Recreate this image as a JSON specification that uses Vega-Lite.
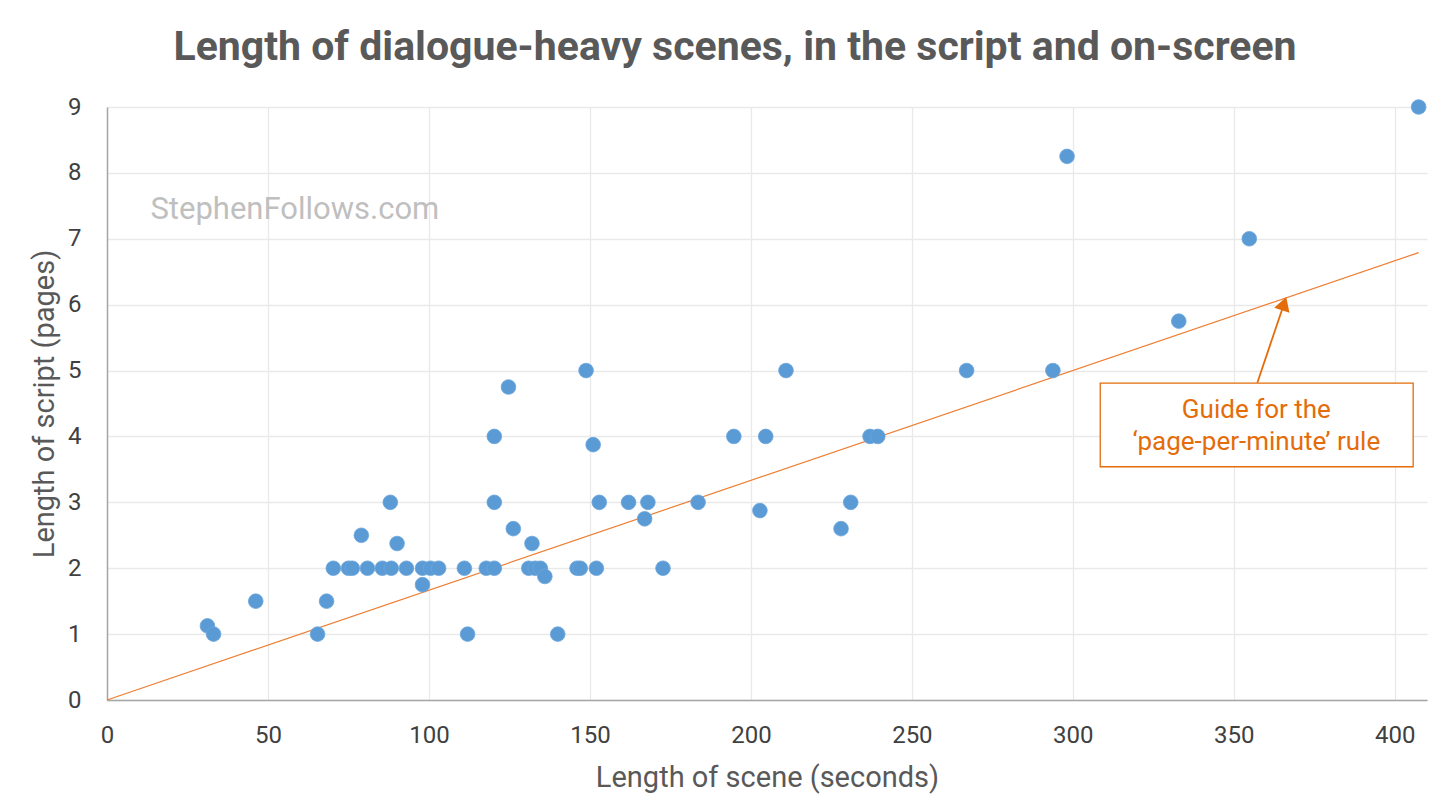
{
  "$schema": "https://vega.github.io/schema/vega-lite/v6.json",
  "width": 1320,
  "height": 593,
  "autosize": "none",
  "padding": {"left": 107, "top": 107, "right": 29, "bottom": 105},
  "background": "white",
  "title": {
    "text": "Length of dialogue-heavy scenes, in the script and on-screen",
    "font": "Roboto",
    "fontSize": 41,
    "fontWeight": "bold",
    "color": "#595959",
    "anchor": "middle",
    "frame": "group",
    "dx": -32,
    "offset": 26
  },
  "config": {
    "view": {"stroke": null},
    "font": "Roboto",
    "axis": {
      "labelFont": "Roboto",
      "labelFontSize": 24,
      "labelColor": "#404040",
      "labelFlush": false,
      "titleFont": "Roboto",
      "titleFontSize": 29,
      "titleFontWeight": "normal",
      "titleColor": "#595959",
      "domainColor": "#a6a6a6",
      "domainWidth": 1.5,
      "gridColor": "#e9e9e9",
      "gridWidth": 1.3,
      "ticks": false
    }
  },
  "datasets": {
    "scenes": [
      {"seconds": 31.2, "pages": 1.125},
      {"seconds": 33.1, "pages": 1},
      {"seconds": 46.2, "pages": 1.5},
      {"seconds": 65.4, "pages": 1},
      {"seconds": 68.2, "pages": 1.5},
      {"seconds": 70.3, "pages": 2},
      {"seconds": 75, "pages": 2},
      {"seconds": 76.2, "pages": 2},
      {"seconds": 79, "pages": 2.5},
      {"seconds": 80.9, "pages": 2},
      {"seconds": 85.5, "pages": 2},
      {"seconds": 88, "pages": 3},
      {"seconds": 88.3, "pages": 2},
      {"seconds": 90.1, "pages": 2.375},
      {"seconds": 93, "pages": 2},
      {"seconds": 98, "pages": 2},
      {"seconds": 98, "pages": 1.75},
      {"seconds": 100.5, "pages": 2},
      {"seconds": 103, "pages": 2},
      {"seconds": 111, "pages": 2},
      {"seconds": 112, "pages": 1},
      {"seconds": 117.8, "pages": 2},
      {"seconds": 120.3, "pages": 2},
      {"seconds": 120.3, "pages": 3},
      {"seconds": 120.3, "pages": 4},
      {"seconds": 124.7, "pages": 4.75},
      {"seconds": 126.2, "pages": 2.6},
      {"seconds": 131, "pages": 2},
      {"seconds": 132, "pages": 2.375},
      {"seconds": 133, "pages": 2},
      {"seconds": 134.6, "pages": 2},
      {"seconds": 136, "pages": 1.875},
      {"seconds": 140, "pages": 1},
      {"seconds": 146, "pages": 2},
      {"seconds": 147, "pages": 2},
      {"seconds": 148.8, "pages": 5},
      {"seconds": 151, "pages": 3.875},
      {"seconds": 152, "pages": 2},
      {"seconds": 152.9, "pages": 3},
      {"seconds": 162, "pages": 3},
      {"seconds": 167, "pages": 2.75},
      {"seconds": 168, "pages": 3},
      {"seconds": 172.7, "pages": 2},
      {"seconds": 183.6, "pages": 3},
      {"seconds": 194.7, "pages": 4},
      {"seconds": 202.8, "pages": 2.875},
      {"seconds": 204.6, "pages": 4},
      {"seconds": 210.9, "pages": 5},
      {"seconds": 228, "pages": 2.6},
      {"seconds": 231, "pages": 3},
      {"seconds": 237, "pages": 4},
      {"seconds": 239.4, "pages": 4},
      {"seconds": 267, "pages": 5},
      {"seconds": 293.8, "pages": 5},
      {"seconds": 298.2, "pages": 8.25},
      {"seconds": 332.9, "pages": 5.75},
      {"seconds": 354.8, "pages": 7},
      {"seconds": 407.4, "pages": 9}
    ],
    "guide": [
      {"seconds": 0, "pages": 0},
      {"seconds": 407.4, "pages": 6.79}
    ]
  },
  "layer": [
    {
      "data": {"name": "guide"},
      "mark": {"type": "line", "color": "#ED7D31", "strokeWidth": 1.2},
      "encoding": {
        "x": {
          "field": "seconds",
          "type": "quantitative",
          "title": "Length of scene (seconds)",
          "scale": {"domain": [0, 410], "nice": false, "zero": true},
          "axis": {
            "values": [0, 50, 100, 150, 200, 250, 300, 350, 400],
            "format": "d",
            "labelPadding": 23,
            "titlePadding": 16
          }
        },
        "y": {
          "field": "pages",
          "type": "quantitative",
          "title": "Length of script (pages)",
          "scale": {"domain": [0, 9], "nice": false},
          "axis": {
            "values": [0, 1, 2, 3, 4, 5, 6, 7, 8, 9],
            "format": "d",
            "labelPadding": 26,
            "titlePadding": 8
          }
        }
      }
    },
    {
      "data": {"name": "scenes"},
      "mark": {
        "type": "circle",
        "size": 215,
        "color": "#5B9BD5",
        "opacity": 1,
        "stroke": "#6AA5DA",
        "strokeWidth": 0.8
      },
      "encoding": {
        "x": {"field": "seconds", "type": "quantitative"},
        "y": {"field": "pages", "type": "quantitative"}
      }
    },
    {
      "data": {"values": [{"label": "StephenFollows.com"}]},
      "mark": {
        "type": "text",
        "align": "left",
        "baseline": "middle",
        "font": "Roboto",
        "fontSize": 31,
        "color": "#bfbfbf"
      },
      "encoding": {
        "x": {"datum": 13.5, "type": "quantitative"},
        "y": {"datum": 7.43, "type": "quantitative"},
        "text": {"field": "label"}
      }
    },
    {
      "data": {"values": [{"label": "box"}]},
      "mark": {
        "type": "rect",
        "fill": "white",
        "stroke": "#E46C0A",
        "strokeWidth": 1.3
      },
      "encoding": {
        "x": {"datum": 308.5, "type": "quantitative"},
        "x2": {"datum": 405.7},
        "y": {"datum": 4.81, "type": "quantitative"},
        "y2": {"datum": 3.54}
      }
    },
    {
      "data": {"values": [{"label": "Guide for the\n‘page-per-minute’ rule"}]},
      "mark": {
        "type": "text",
        "align": "center",
        "baseline": "middle",
        "lineBreak": "\n",
        "lineHeight": 32,
        "font": "Roboto",
        "fontSize": 26,
        "color": "#E46C0A"
      },
      "encoding": {
        "x": {"datum": 357, "type": "quantitative"},
        "y": {"datum": 4.40, "type": "quantitative"},
        "text": {"field": "label"}
      }
    },
    {
      "data": {"values": [{"label": "arrow"}]},
      "mark": {"type": "rule", "color": "#E46C0A", "strokeWidth": 1.8},
      "encoding": {
        "x": {"datum": 357.3, "type": "quantitative"},
        "x2": {"datum": 365.6},
        "y": {"datum": 4.815, "type": "quantitative"},
        "y2": {"datum": 6.015}
      }
    },
    {
      "data": {"values": [{"label": "arrowhead"}]},
      "mark": {
        "type": "point",
        "shape": "triangle-up",
        "filled": true,
        "size": 256,
        "angle": 18.5,
        "color": "#E46C0A",
        "opacity": 1
      },
      "encoding": {
        "x": {"datum": 365.6, "type": "quantitative"},
        "y": {"datum": 6.015, "type": "quantitative"}
      }
    }
  ]
}
